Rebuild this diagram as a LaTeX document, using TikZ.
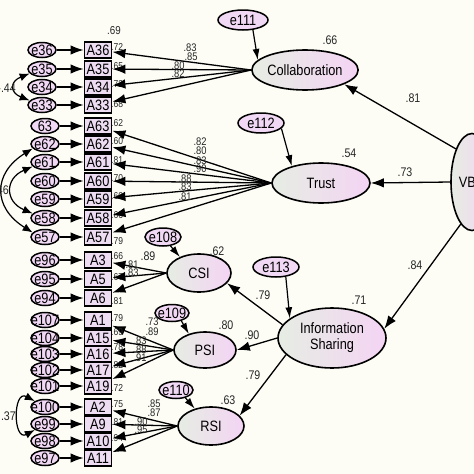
\documentclass[tikz,border=0pt]{standalone}
\usepackage{fontspec}
\setmainfont{Liberation Sans}[FakeStretch=0.85]
\usetikzlibrary{arrows.meta,shapes.geometric}

\definecolor{paper}{HTML}{FDFDF6}
\definecolor{boxfill}{HTML}{EEDCF3}
\definecolor{errfill}{HTML}{F1D8F4}
\definecolor{latleft}{HTML}{E6EDE3}
\definecolor{latright}{HTML}{F4D4F4}

\tikzset{
  obs/.style={draw,line width=1.8pt,fill=boxfill,minimum width=27pt,minimum height=16pt,
    inner sep=0pt,font=\fontsize{15}{15}\selectfont},
  err/.style={ellipse,draw,line width=1.5pt,fill=errfill,minimum width=28pt,minimum height=15pt,
    inner sep=0pt,text height=10.5pt,text depth=0pt,font=\fontsize{15}{15}\selectfont,
    execute at begin node=\hbox to 0pt\bgroup\hss,execute at end node=\hss\egroup},
  lat/.style={ellipse,draw,line width=1.6pt,left color=latleft,right color=latright,
    inner sep=0pt,font=\fontsize{15}{16}\selectfont},
  arr/.style={-{Latex[length=13pt,width=9.5pt]},line width=1.3pt},
  sarr/.style={-{Latex[length=11pt,width=7pt]},line width=1.2pt},
  cov/.style={{Latex[length=10pt,width=8pt]}-{Latex[length=10pt,width=8pt]},line width=1.2pt},
  est/.style={inner sep=0pt,text=black!85,font=\fontsize{11}{11}\selectfont},
  lest/.style={inner sep=0pt,text=black!85,font=\fontsize{12.5}{12.5}\selectfont},
  rsq/.style={inner sep=0pt,anchor=west,text=black!85,font=\fontsize{10}{10}\selectfont},
}

\begin{document}
\begin{tikzpicture}[x=1pt,y=-1pt]
\fill[paper] (0,0) rectangle (474,474);
\useasboundingbox (0,0) rectangle (474,474);
\clip (0,0) rectangle (474,474);

% latent factors
\node[lat,minimum width=104pt,minimum height=40pt] (col) at (305,70) {Collaboration};
\node[lat,minimum width=98pt,minimum height=40pt] (trust) at (321,183) {Trust};
\node[lat,minimum width=108pt,minimum height=60pt,align=center] (info) at (332,338) {Information\\Sharing};
\node[lat,minimum width=42pt,minimum height=97pt] (vbc) at (472,182) {VBC};
\node[lat,minimum width=64pt,minimum height=38pt] (csi) at (199,273) {CSI};
\node[lat,minimum width=62pt,minimum height=36pt] (psi) at (205,350) {PSI};
\node[lat,minimum width=66pt,minimum height=38pt] (rsi) at (211,426) {RSI};

% disturbances
\node[err,minimum width=50pt,minimum height=20pt] (e111) at (243,20) {e111};
\node[err,minimum width=46pt,minimum height=20pt] (e112) at (261,123) {e112};
\node[err,minimum width=46pt,minimum height=20pt] (e113) at (276,267) {e113};
\node[err,minimum width=36pt,minimum height=18pt] (e108) at (163,237) {e108};
\node[err,minimum width=34pt,minimum height=17pt] (e109) at (172,313) {e109};
\node[err,minimum width=34pt,minimum height=17pt] (e110) at (176,390) {e110};

% structural paths
\draw[arr] (vbc.116) -- (col.-20);
\draw[arr] (vbc.west) -- (trust.east);
\draw[arr] (vbc.255) -- (info.10);
\draw[arr] (info.165) -- (csi.-20);
\draw[arr] (info.west) -- (psi.east);
\draw[arr] (info.200) -- (rsi.20);
\draw[sarr] (e111.-45) -- (col.168);
\draw[sarr] (e112.-15) -- (trust.150);
\draw[sarr] (e113.-45) -- (info.155);
\draw[sarr] (e108.-50) -- (csi.140);
\draw[sarr] (e109.-40) -- (psi.135);
\draw[sarr] (e110.-40) -- (rsi.133);

% items
\node[rsq,font=\fontsize{11.5}{11.5}\selectfont] (r69) at (107,31) {.69};
\foreach \i/\e/\t/\y/\q/\qy in {36/36/e36/50/.72/47,35/35/e35/69/.65/66,34/34/e34/87/.72/84,33/33/e33/105/.68/104}{
  \node[obs] (A\i) at (98,\y) {A\i};
  \node[err] (e\e) at (42,\y) {\t};
  \node[rsq] at (111,\qy) {\q};
  \draw[arr] (e\e) -- (A\i);
  \draw[arr] (col.west) -- (A\i);
}
\foreach \i/\e/\t/\y/\q/\qy in {63/63/63/126/.62/123,62/62/e62/144/.60/141,61/61/e61/162/.81/160,
    60/60/e60/181/.70/178,59/59/e59/199/.60/196,58/58/e58/218/.66/215,57/57/e57/237/.79/241}{
  \node[obs] (A\i) at (98,\y) {A\i};
  \node[err] (e\e) at (45,\y) {\t};
  \node[rsq] at (111,\qy) {\q};
  \draw[arr] (e\e) -- (A\i);
  \draw[arr] (trust.west) -- (A\i);
}
\foreach \i/\e/\t/\y/\q/\qy in {3/96/e96/260/.66/256,5/95/e95/279/.67/277,6/94/e94/298/.81/301}{
  \node[obs] (A\i) at (98,\y) {A\i};
  \node[err] (e\e) at (45,\y) {\t};
  \node[rsq] at (111,\qy) {\q};
  \draw[arr] (e\e) -- (A\i);
  \draw[arr] (csi.west) -- (A\i);
}
\foreach \i/\e/\t/\y/\q/\qy in {1/107/e107/320/.79/318,15/104/e104/338/.69/332,16/103/e103/354/.78/347,
    17/102/e102/370/.82/365,19/101/e101/386/.72/388}{
  \node[obs] (A\i) at (98,\y) {A\i};
  \node[err] (e\e) at (45,\y) {\t};
  \node[rsq] at (111,\qy) {\q};
  \draw[arr] (e\e) -- (A\i);
  \draw[arr] (psi.west) -- (A\i);
}
\foreach \i/\e/\t/\y/\q/\qy in {2/100/e100/407/.75/404,9/99/e99/424/.81/422,10/98/e98/441/.94/438,11/97/e97/458//458}{
  \node[obs] (A\i) at (98,\y) {A\i};
  \node[err] (e\e) at (45,\y) {\t};
  \node[rsq] at (111,\qy) {\q};
  \draw[arr] (e\e) -- (A\i);
  \draw[arr] (rsi.west) -- (A\i);
}

% error covariances
\draw[cov] (e35.200) .. controls +(-20,8) and +(-20,-8) .. (e33.160);
\draw[cov] (e62.200) .. controls +(-40,25) and +(-40,-25) .. (e57.160);
\draw[cov] (e61.200) .. controls +(-28,12) and +(-28,-12) .. (e58.160);
\draw[cov] (e100.150) .. controls +(-22,-12) and +(-22,12) .. (e99.210);
\node[lest,anchor=east] (c44) at (16,88) {-.44};
\node[lest,anchor=east] (c46) at (9,190) {.46};
\node[lest,anchor=east] (c37) at (16,416) {.37};

% loadings
\foreach \v/\x/\y in {.83/190/48,.85/191/57,.80/178/66,.82/178/74,
    .82/200/142,.80/200/151,.83/200/161,.90/200/169,.88/185/179,.83/185/187,.81/185/197,
    .81/132/265,.83/132/273,.73/152/322,.89/152/332,.83/140/341,.88/140/350,.91/140/358,
    .85/154/404,.87/154/413,.90/141/422,.95/141/430}
  \node[est] at (\x,\y) {\v};

% structural estimates
\foreach \v/\x/\y in {.66/330/40,.54/349/153,.81/413/98,.73/405/172,.84/415/265,.71/359/300,
    .62/217/251,.89/148/256,.79/263/295,.80/226/325,.90/252/335,.79/253/375,.63/228/400}
  \node[lest] at (\x,\y) {\v};
\end{tikzpicture}
\end{document}
